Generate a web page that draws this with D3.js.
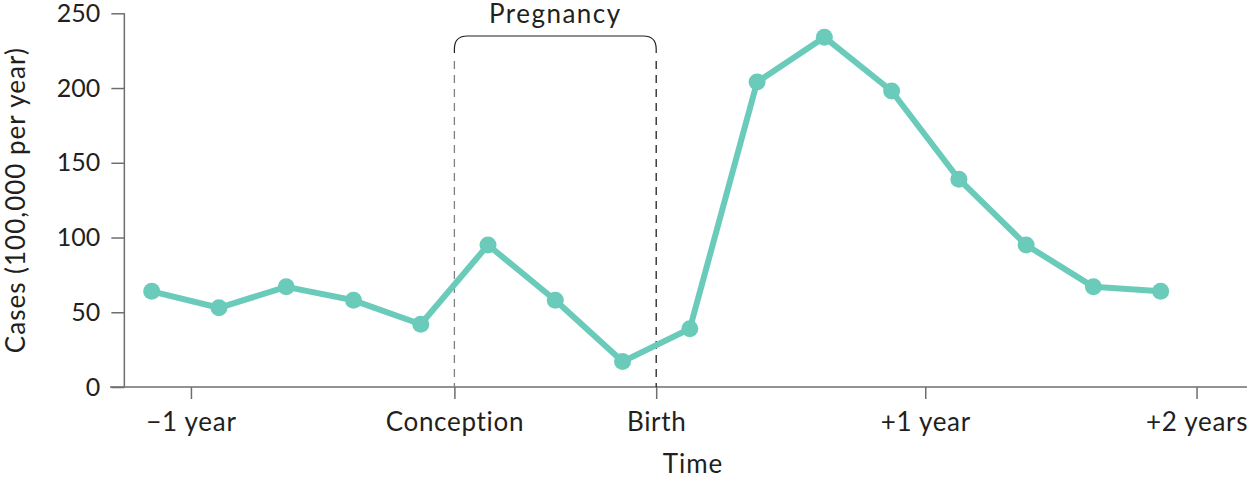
<html>
<head>
<script src='https://d3js.org/d3.v7.min.js'></script>
<style>
body { margin: 0; background: #fff; }
text { font-family: Lato, 'Open Sans', sans-serif; fill: #231f20; }
.axis path, .axis line { stroke: #6d6e70; stroke-width: 1.5px; }
.axis text { font-size: 25px; fill: #231f20; }
.xaxis text { font-size: 26px; letter-spacing: 0.7px; }
.title { font-size: 26px; letter-spacing: 1px; }
.line { fill: none; stroke: #6acbbb; stroke-width: 6px; stroke-linejoin: round; }
.dot { fill: #6acbbb; }
.mark { fill: none; stroke: #231f20; stroke-width: 1.2px; }
</style>
</head>
<body>
<svg id="chart" width=1247 height=478></svg>
<script>
// months relative to birth (quarterly mid-points)
var months = [-22.5, -19.5, -16.5, -13.5, -10.5, -7.5, -4.5, -1.5, 1.5, 4.5, 7.5, 10.5, 13.5, 16.5, 19.5, 22.5];
var cases = [64, 53, 67, 58, 42, 95, 58, 17, 39, 204, 234, 198, 139, 95, 67, 64];
var xTicks = [-20.75, -9, 0, 12, 24.1];
var xTickLabels = ['\u22121 year', 'Conception', 'Birth', '+1 year', '+2 years'];
var yTicks = [0, 50, 100, 150, 200, 250];
var pregnancy = [-9, 0];

var chart = d3.select('svg');
var x = d3.scaleLinear().domain([-24.36, 26.35]).range([110, 1247]);
var y = d3.scaleLinear().domain([0, 250]).range([387, 13.3]);

// y axis
var yAxis = d3.axisLeft(y).tickValues(yTicks).tickSize(13).tickPadding(11);
var axisY = chart.append('g').attr('class', 'axis')
    .attr('transform', 'translate(' + x(-23.72) + ',0)')
    .call(yAxis);
axisY.select('.domain').attr('d', 'M0,' + y(250) + 'V' + y(0));

// x axis
var xAxis = d3.axisBottom(x).tickValues(xTicks).tickSize(12).tickPadding(14)
    .tickFormat(function(d, i){ return xTickLabels[i]; });
var axisX = chart.append('g').attr('class', 'axis xaxis')
    .attr('transform', 'translate(0,' + y(0) + ')')
    .call(xAxis);
axisX.select('.domain').attr('d', 'M' + x.range()[0] + ',0H' + x.range()[1]);

// axis titles
chart.append('text').attr('class', 'title').attr('x', 693).attr('y', 473)
    .attr('text-anchor', 'middle').text('Time');
chart.append('text').attr('class', 'title').attr('transform', 'translate(25,' + y(125) + ') rotate(-90)')
    .attr('text-anchor', 'middle').text('Cases (100,000 per year)');

// pregnancy bracket + dashed guides
var x0 = x(pregnancy[0]), x1 = x(pregnancy[1]), r = 13, bTop = 36;
chart.append('path').attr('class', 'mark')
    .attr('d', 'M' + x0 + ',53V' + (bTop + r) + 'Q' + x0 + ',' + bTop + ' ' + (x0 + r) + ',' + bTop +
        'H' + (x1 - r) + 'Q' + x1 + ',' + bTop + ' ' + x1 + ',' + (bTop + r) + 'V53');
chart.selectAll('.guide').data(pregnancy).enter().append('line')
    .attr('class', 'guide')
    .attr('x1', function(d){ return x(d); }).attr('x2', function(d){ return x(d); })
    .attr('y1', 61).attr('y2', y(0))
    .attr('stroke', function(d, i){ return i == 0 ? '#808080' : '#231f20'; })
    .attr('stroke-width', 1.3)
    .attr('stroke-dasharray', '8,6');
chart.append('text').attr('class', 'title').attr('x', (x0 + x1) / 2).attr('y', 23)
    .attr('text-anchor', 'middle').style('letter-spacing', '1.5px').text('Pregnancy');

// series
var data = months.map(function(m, i){ return {m: m, v: cases[i]}; });
var line = d3.line()
    .x(function(d){ return x(d.m); })
    .y(function(d){ return y(d.v); });
chart.append('path').datum(data).attr('class', 'line').attr('d', line);
chart.selectAll('.dot').data(data).enter().append('circle')
    .attr('class', 'dot')
    .attr('cx', function(d){ return x(d.m); })
    .attr('cy', function(d){ return y(d.v); })
    .attr('r', 8.5);
</script>
</body>
</html>
